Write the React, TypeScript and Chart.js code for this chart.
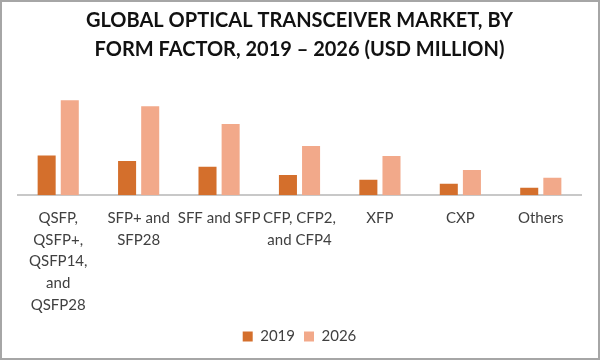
import React, { useEffect, useRef } from "react";
import { Chart, registerables } from "chart.js";

Chart.register(...registerables);

const titleLines = [
  "GLOBAL OPTICAL TRANSCEIVER MARKET, BY",
  "FORM FACTOR, 2019 – 2026 (USD MILLION)",
];

const categories: (string | string[])[] = [
  ["QSFP,", "QSFP+,", "QSFP14,", "and", "QSFP28"],
  ["SFP+ and", "SFP28"],
  "SFF and SFP",
  ["CFP, CFP2,", "and CFP4"],
  "XFP",
  "CXP",
  "Others",
];

const seriesNames = ["2019", "2026"];
const values2019 = [4000, 3450, 2880, 2050, 1550, 1150, 750];
const values2026 = [9550, 8950, 7180, 4950, 3950, 2550, 1750];

const FONT = "Lato, 'Open Sans', sans-serif";

export default function App() {
  const ref = useRef<HTMLCanvasElement>(null);

  useEffect(() => {
    document.body.style.margin = "0";
    const ctx = ref.current!.getContext("2d")!;
    const chart = new Chart(ctx, {
      type: "bar",
      data: {
        labels: categories,
        datasets: [
          {
            label: seriesNames[0],
            data: values2019,
            backgroundColor: "#D46F2C",
            categoryPercentage: 0.575,
            barPercentage: 0.78,
          },
          {
            label: seriesNames[1],
            data: values2026,
            backgroundColor: "#F2A98A",
            categoryPercentage: 0.575,
            barPercentage: 0.78,
          },
        ],
      },
      options: {
        responsive: false,
        animation: false,
        layout: { padding: { left: 16, right: 17, top: 0, bottom: 4 } },
        plugins: {
          title: {
            display: true,
            text: titleLines,
            color: "#111",
            font: { family: FONT, size: 20, weight: "bold", lineHeight: 1.45 },
            padding: { top: 4, bottom: 14 },
          },
          legend: {
            position: "bottom",
            labels: {
              color: "#404040",
              font: { family: FONT, size: 15 },
              boxWidth: 10,
              boxHeight: 10,
              padding: 9,
            },
          },
          tooltip: { enabled: false },
        },
        scales: {
          x: {
            grid: { display: false },
            border: { display: true, color: "#c8c8c8", width: 2 },
            ticks: {
              color: "#404040",
              font: { family: FONT, size: 15, lineHeight: 1.45 },
              maxRotation: 0,
              autoSkip: false,
              padding: 4,
            },
          },
          y: {
            display: false,
            min: 0,
            max: 11800,
          },
        },
      },
    });
    return () => chart.destroy();
  }, []);

  return (
    <div
      style={{
        width: 600,
        height: 360,
        boxSizing: "border-box",
        border: "2px solid #a6a6a6",
        background: "#fff",
      }}
    >
      <canvas ref={ref} width={596} height={356} style={{ display: "block" }} />
    </div>
  );
}
